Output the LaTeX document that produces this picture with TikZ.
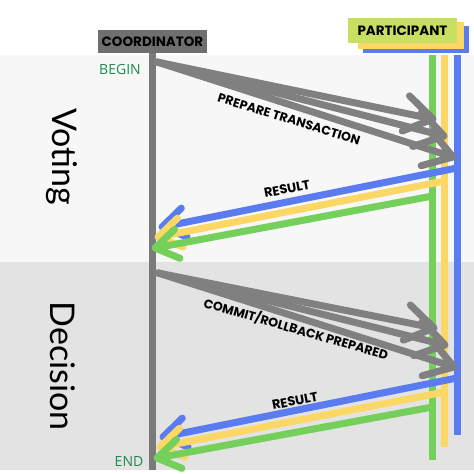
\documentclass[tikz,border=0pt]{standalone}
\usepackage{fontspec}
\setmainfont{Open Sans}
\newfontfamily\pop{Poppins}
\newfontfamily\lato{Lato}
\usetikzlibrary{calc}
\definecolor{bandA}{HTML}{F7F7F7}
\definecolor{bandB}{HTML}{E3E3E3}
\definecolor{cgray}{HTML}{6F6F6F}
\definecolor{lgray}{HTML}{7A7A7A}
\definecolor{agray}{HTML}{808080}
\definecolor{pgreen}{HTML}{74CF5B}
\definecolor{pyellow}{HTML}{FBD866}
\definecolor{pblue}{HTML}{5B7CF1}
\definecolor{hgreen}{HTML}{C7E063}
\definecolor{tgreen}{HTML}{1E8A4E}
\newcommand\myarrow[4]{%
  \draw[wire,#1] (#2) -- (#3) ($(#3)!#4!33:(#2)$) -- (#3) -- ($(#3)!#4!-33:(#2)$);}
\begin{document}
\begin{tikzpicture}[x=1pt,y=-1pt,
  wire/.style={line width=7pt,line cap=round,line join=round},
  lifeline/.style={line width=7pt},
  lbl/.style={font=\pop\bfseries\fontsize{12.5}{12.5}\selectfont,inner sep=0pt,text=black},
  rlbl/.style={font=\pop\bfseries\fontsize{13}{13}\selectfont,inner sep=0pt,text=black},
  head/.style={font=\pop\bfseries\fontsize{13.5}{13.5}\selectfont,inner sep=0pt,text=black},
  phase/.style={font=\lato\fontsize{34}{34}\selectfont,inner sep=0pt,rotate=-90,text=black},
  endlabel/.style={font=\fontsize{14}{14}\selectfont,inner sep=0pt,text=tgreen}]
\useasboundingbox (0,0) rectangle (474,474);
% bands
\fill[bandA] (0,55) rectangle (474,262);
\fill[bandB] (0,262) rectangle (474,470);
% phase labels
\node[phase] (voting) at (62,157) {Voting};
\node[phase] (decision) at (63,366) {Decision};
% coordinator
\node[fill=cgray,minimum width=109pt,minimum height=23pt,head] (coord) at (152.5,41.5) {COORDINATOR};
\coordinate (ctop) at (152.5,53);
\coordinate (cbot) at (152.5,470);
\draw[lifeline,lgray] (ctop) -- (cbot);
\node[endlabel] (begin) at (120,69) {BEGIN};
\node[endlabel] (end) at (129,461) {END};
% participant header
\fill[pblue] (363,26) rectangle (469,53);
\fill[pyellow] (358,22) rectangle (464,49);
\node[fill=hgreen,minimum width=109pt,minimum height=25pt,head] (part) at (402.5,30.5) {PARTICIPANT};
% participant lifelines
\coordinate (gtop) at (432.5,55); \coordinate (gbot) at (432.5,460);
\coordinate (ytop) at (444.5,55); \coordinate (ybot) at (444.5,447);
\coordinate (btop) at (457,55);   \coordinate (bbot) at (457,435);
\draw[lifeline,pgreen] (gtop) -- (gbot);
\draw[lifeline,pyellow] (ytop) -- (ybot);
\draw[lifeline,pblue] (btop) -- (bbot);
% voting: prepare
\coordinate (p0) at (157,62);
\coordinate (p1) at (433,119);
\coordinate (p2) at (444,136);
\coordinate (p3) at (453,157);
\myarrow{agray}{p0}{p1}{33pt}
\myarrow{agray}{p0}{p2}{33pt}
\myarrow{agray}{p0}{p3}{33pt}
\node[lbl,rotate=-17] (prep) at (289,119) {PREPARE TRANSACTION};
% voting: results
\coordinate (rb0) at (457,168); \coordinate (rb1) at (162,227);
\coordinate (ry0) at (444.5,181); \coordinate (ry1) at (158,237);
\coordinate (rg0) at (432.5,196); \coordinate (rg1) at (155,248);
\myarrow{pblue}{rb0}{rb1}{27pt}
\myarrow{pyellow}{ry0}{ry1}{27pt}
\myarrow{pgreen}{rg0}{rg1}{27pt}
\node[rlbl,rotate=11] (res1) at (287,189) {RESULT};
% decision: commit/rollback
\coordinate (d0) at (158,273);
\coordinate (d1) at (434,328);
\coordinate (d2) at (445,345);
\coordinate (d3) at (454,367);
\myarrow{agray}{d0}{d1}{33pt}
\myarrow{agray}{d0}{d2}{33pt}
\myarrow{agray}{d0}{d3}{33pt}
\node[lbl,rotate=-16] (commit) at (296,329) {COMMIT/ROLLBACK PREPARED};
% decision: results
\coordinate (sb0) at (457,378); \coordinate (sb1) at (163,437);
\coordinate (sy0) at (444.5,392); \coordinate (sy1) at (160,447);
\coordinate (sg0) at (432.5,407); \coordinate (sg1) at (157,458);
\myarrow{pblue}{sb0}{sb1}{27pt}
\myarrow{pyellow}{sy0}{sy1}{27pt}
\myarrow{pgreen}{sg0}{sg1}{27pt}
\node[rlbl,rotate=11] (res2) at (295,401) {RESULT};
\end{tikzpicture}
\end{document}
